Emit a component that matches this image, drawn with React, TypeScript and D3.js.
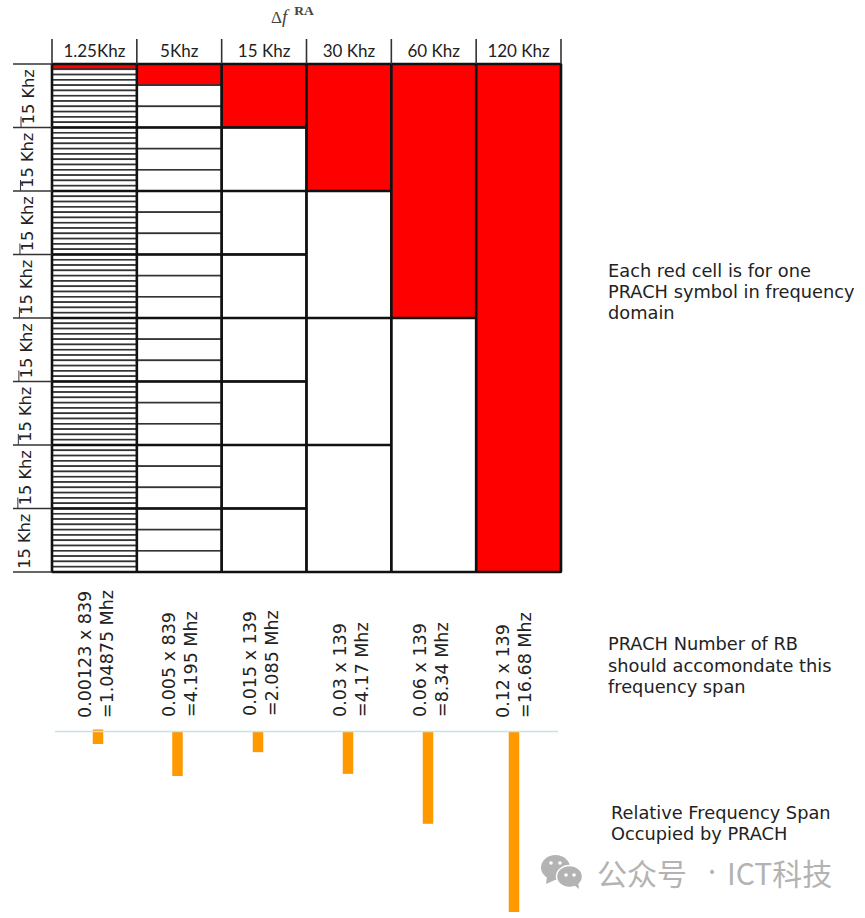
import React, { useRef, useEffect } from 'react'
import * as d3 from 'd3'

const categories = ['1.25Khz', '5Khz', '15 Khz', '30 Khz', '60 Khz', '120 Khz']
// how many cells fit in one 15 Khz row of the grid
const cellsPerSlot = [12, 3, 1, 0.5, 0.25, 0.125]
const slotLabels = ['15 Khz', '15 Khz', '15 Khz', '15 Khz', '15 Khz', '15 Khz', '15 Khz', '15 Khz']
const spanFormula = ['0.00123 x 839', '0.005 x 839', '0.015 x 139', '0.03 x 139', '0.06 x 139', '0.12 x 139']
const spanResult = ['=1.04875 Mhz', '=4.195 Mhz', '=2.085 Mhz', '=4.17 Mhz', '=8.34 Mhz', '=16.68 Mhz']
// bar lengths, in Mhz
const barValues = [1.2, 4.15, 1.95, 3.95, 8.55, 16.68]
const noteRed = ['Each red cell is for one', 'PRACH symbol in frequency', 'domain']
const noteSpan = ['PRACH Number of RB', 'should accomondate this', 'frequency span']
const noteRelative = ['Relative Frequency Span', 'Occupied by PRACH']

export default function App() {
  const ref = useRef<SVGSVGElement>(null)
  useEffect(() => {
    if (!ref.current) return
    const svg = d3.select(ref.current)
    svg.selectAll('*').remove()

    const x = d3.scaleBand().domain(categories).range([52, 561])
    const y = d3.scaleLinear().domain([0, slotLabels.length]).range([64, 572])
    const font = '"DejaVu Sans", sans-serif'
    const slots = slotLabels.length

    // 网格
    const grid = svg.append('g')
    categories.forEach((c, i) => {
      const n = cellsPerSlot[i]
      const cells = d3.range(Math.ceil(slots * n))
      grid.selectAll(null)
        .data(cells)
        .enter()
        .append('rect')
        .attr('x', x(c)!)
        .attr('width', x.bandwidth())
        .attr('y', d => y(d / n))
        .attr('height', d => y(Math.min((d + 1) / n, slots)) - y(d / n))
        .attr('fill', d => (d === 0 ? '#ff0000' : '#ffffff'))
        .attr('stroke', '#333')
        .attr('stroke-width', n > 1 ? 1.6 : 2)
    })

    // 每行的粗线
    d3.range(slots + 1).forEach(s => {
      categories.forEach((c, i) => {
        const n = cellsPerSlot[i]
        if (n < 1 && (s * n) % 1 !== 0 && s !== slots) return
        grid.append('line')
          .attr('x1', x(c)!)
          .attr('x2', x(c)! + x.bandwidth())
          .attr('y1', y(s))
          .attr('y2', y(s))
          .attr('stroke', '#111')
          .attr('stroke-width', 2.4)
      })
    })
    categories.concat(['']).forEach(c => {
      const px = c ? x(c)! : x.range()[1]
      grid.append('line')
        .attr('x1', px)
        .attr('x2', px)
        .attr('y1', y(0))
        .attr('y2', y(slots))
        .attr('stroke', '#111')
        .attr('stroke-width', 2.6)
      svg.append('line')
        .attr('x1', px)
        .attr('x2', px)
        .attr('y1', 39)
        .attr('y2', y(0))
        .attr('stroke', '#333')
        .attr('stroke-width', 1.6)
    })

    // 上方标签
    svg.selectAll(null)
      .data(categories)
      .enter()
      .append('text')
      .attr('x', d => x(d)! + x.bandwidth() / 2)
      .attr('y', 57)
      .attr('text-anchor', 'middle')
      .attr('font-family', 'Lato, sans-serif')
      .attr('font-size', 17)
      .attr('fill', '#222')
      .text(d => d)

    const title = svg.append('text')
      .attr('x', 271)
      .attr('y', 23)
      .attr('font-family', '"Liberation Serif", serif')
      .attr('fill', '#444')
    title.append('tspan').attr('font-size', 17).text('Δ')
    title.append('tspan').attr('font-size', 19).attr('font-style', 'italic').text('f')
    title.append('tspan').attr('font-size', 13.5).attr('font-weight', 'bold').attr('dx', 7).attr('dy', -8).text('RA')

    // 左边的行标签
    const slotBase = d3.scaleLinear().domain([0, slots - 1]).range([34, 30.3])
    d3.range(slots + 1).forEach(s => {
      svg.append('line')
        .attr('x1', 13)
        .attr('x2', 52)
        .attr('y1', y(s))
        .attr('y2', y(s))
        .attr('stroke', '#333')
        .attr('stroke-width', 1.4)
      if (s > 0 && s < slots) {
        svg.append('line')
          .attr('x1', slotBase(s - 1) - 13)
          .attr('x2', slotBase(s - 1) - 13)
          .attr('y1', y(s) - 11)
          .attr('y2', y(s))
          .attr('stroke', '#333')
          .attr('stroke-width', 1)
      }
    })
    svg.selectAll(null)
      .data(slotLabels)
      .enter()
      .append('text')
      .attr('transform', (d, i) => `translate(${slotBase(i)},${y(i + 0.5) + 1}) rotate(-90)`)
      .attr('text-anchor', 'middle')
      .attr('font-family', font)
      .attr('font-size', 16.2)
      .attr('fill', '#222')
      .text(d => d)

    // 条形
    const barX = d3.scaleOrdinal<string, number>().domain(categories).range([98, 177.5, 258, 348, 428, 514])
    const barY = d3.scaleLinear().domain([0, 16.68]).range([731, 912])
    svg.selectAll(null)
      .data(barValues)
      .enter()
      .append('rect')
      .attr('x', (d, i) => barX(categories[i]) - 5.25)
      .attr('width', 10.5)
      .attr('y', (d, i) => (i === 0 ? 729.5 : 731))
      .attr('height', (d, i) => barY(d) - (i === 0 ? 729.5 : 731))
      .attr('fill', '#ff9900')
    svg.append('line')
      .attr('x1', 55)
      .attr('x2', 558)
      .attr('y1', 731.5)
      .attr('y2', 731.5)
      .attr('stroke', '#c4e2e8')
      .attr('stroke-width', 1.4)

    // 竖排公式
    const spanLabelY = d3.scaleOrdinal<string, number>().domain(categories).range([718, 717, 716, 717, 717, 718])
    const spanLabelX = d3.scaleOrdinal<string, number>().domain(categories).range([91, 175, 256, 346, 426, 509])
    categories.forEach((c, i) => {
      const g = svg.append('g')
        .attr('transform', `translate(${spanLabelX(c)},${spanLabelY(c)}) rotate(-90)`)
        .attr('font-family', font)
        .attr('font-size', 17.5)
        .attr('fill', '#222')
      g.append('text').text(spanFormula[i])
      g.append('text').attr('y', 22).attr('x', 0).text(spanResult[i])
    })

    // 右边的说明
    const notes: [string[], number, number, number][] = [
      [noteRed, 608, 277, 21],
      [noteSpan, 608, 650, 21.5],
      [noteRelative, 611, 819, 21],
    ]
    notes.forEach(([lines, nx, ny, gap]) => {
      svg.append('g')
        .selectAll('text')
        .data(lines)
        .enter()
        .append('text')
        .attr('x', nx)
        .attr('y', (d, i) => ny + i * gap)
        .attr('font-family', font)
        .attr('font-size', 17.8)
        .attr('fill', '#222')
        .text(d => d)
    })

    // 水印
    const mark = svg.append('g').attr('fill', '#b3b3b3')
    mark.append('ellipse').attr('cx', 555.5).attr('cy', 867.5).attr('rx', 14.5).attr('ry', 12.5)
    mark.append('path').attr('d', 'M547 876 L546 884 L555 880 Z')
    mark.append('ellipse').attr('cx', 569.5).attr('cy', 876.5).attr('rx', 13).attr('ry', 11).attr('stroke', '#fff').attr('stroke-width', 1.5)
    mark.append('path').attr('d', 'M574 885 L579 889 L578 881 Z')
    const eyes: [number, number][] = [[551, 863], [560, 863], [566, 875], [574, 875]]
    eyes.forEach(([cx, cy]) => {
      mark.append('circle').attr('cx', cx).attr('cy', cy).attr('r', 1.8).attr('fill', '#fff')
    })
    const wm = svg.append('g')
      .attr('font-family', '"Noto Sans CJK SC", sans-serif')
      .attr('font-size', 30)
      .attr('fill', '#b3b3b3')
    wm.append('text').attr('x', 597).attr('y', 885).text('公众号')
    wm.append('text').attr('x', 708).attr('y', 883).attr('font-family', '"Noto Sans", sans-serif').text('·')
    wm.append('text').attr('x', 727).attr('y', 885).text('ICT科技')
  }, [])
  return (
    <svg
      ref={ref}
      width={865}
      height={918}
      style={{ position: 'absolute', left: 0, top: 0, background: '#fff' }}
    />
  )
}
